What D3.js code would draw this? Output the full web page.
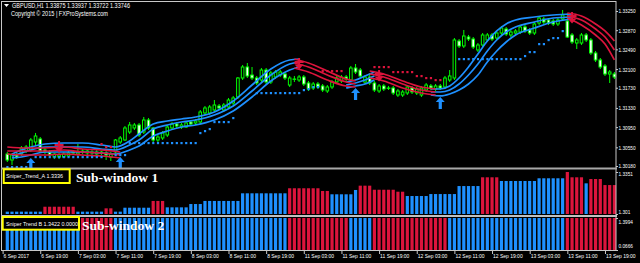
<!DOCTYPE html>
<html>
<head>
<meta charset="utf-8">
<script src="https://cdn.jsdelivr.net/npm/d3@7"></script>
<style>
  body { margin: 0; background: #000; }
  svg { display: block; }
  text { font-family: "Liberation Sans", Arial, sans-serif; fill: #fff; }
</style>
</head>
<body>
<div id="chart"></div>
<script>
// ---- values (GBPUSD H1, 6-13 Sep 2017) ----
const priceTicks = [1.33250, 1.32870, 1.32490, 1.32100, 1.31730, 1.31330, 1.30950, 1.30550, 1.30180];
const timeTickBars = [-1, 7, 15, 23, 31, 39, 47, 55, 63, 71, 79, 87, 95, 103, 111, 119, 127];
const timeLabels = ["6 Sep 2017", "6 Sep 19:00", "7 Sep 03:00", "7 Sep 11:00", "7 Sep 19:00", "8 Sep 03:00",
  "8 Sep 11:00", "8 Sep 19:00", "11 Sep 03:00", "11 Sep 11:00", "11 Sep 19:00", "12 Sep 03:00",
  "12 Sep 11:00", "12 Sep 19:00", "13 Sep 03:00", "13 Sep 11:00", "13 Sep 19:00"];

const opens = [
  1.30418,1.30299,1.30398,1.30418,1.30477,1.30497,1.30655,1.30715,1.30497,1.30457,
  1.30358,1.30358,1.30358,1.30378,1.30457,1.30418,1.30477,1.30438,1.30457,1.30418,
  1.30457,1.30438,1.30358,1.30457,1.30655,1.30695,1.30853,1.30933,1.30992,1.30853,
  1.31091,1.30933,1.30695,1.30735,1.30794,1.30933,1.31012,1.30952,1.30952,1.31052,
  1.31032,1.31052,1.31230,1.31230,1.31289,1.31368,1.31289,1.31349,1.31428,1.31547,
  1.31923,1.32141,1.31982,1.31923,1.31883,1.32081,1.31844,1.31943,1.31982,1.32002,
  1.31784,1.31903,1.31883,1.31943,1.31824,1.31725,1.31804,1.31765,1.31666,1.31745,
  1.31844,1.31864,1.31943,1.31883,1.32121,1.32081,1.31844,1.31943,1.31824,1.31666,
  1.31765,1.31725,1.31725,1.31586,1.31586,1.31626,1.31725,1.31626,1.31586,1.31685,
  1.31765,1.31705,1.31765,1.31745,1.31883,1.31923,1.32656,1.32557,1.32735,1.32695,
  1.32478,1.32577,1.32676,1.32775,1.32715,1.32814,1.32893,1.32775,1.32814,1.32834,
  1.32933,1.32874,1.32814,1.33012,1.33092,1.33072,1.33052,1.32993,1.33092,1.33052,
  1.32775,1.32616,1.32616,1.32775,1.32676,1.32418,1.32280,1.32161,1.32002,1.32002];
const highs = [
  1.30457,1.30438,1.30457,1.30576,1.30596,1.30735,1.30834,1.30754,1.30537,1.30497,
  1.30438,1.30438,1.30457,1.30477,1.30497,1.30616,1.30517,1.30517,1.30497,1.30497,
  1.30477,1.30477,1.30457,1.30715,1.30774,1.30972,1.31052,1.31032,1.31032,1.31151,
  1.31131,1.30952,1.30794,1.30873,1.30992,1.31052,1.31052,1.31032,1.31071,1.31091,
  1.31111,1.31289,1.31368,1.31388,1.31487,1.31408,1.31428,1.31527,1.31567,1.31943,
  1.32181,1.32220,1.32141,1.31963,1.32121,1.32121,1.32062,1.32081,1.32081,1.32042,
  1.31963,1.31963,1.31982,1.31982,1.31864,1.31844,1.31844,1.31804,1.31784,1.31883,
  1.31963,1.31982,1.31982,1.32161,1.32200,1.32121,1.31982,1.32022,1.31864,1.31804,
  1.31804,1.31765,1.31765,1.31705,1.31685,1.31784,1.31765,1.31745,1.31765,1.31824,
  1.31804,1.31804,1.31804,1.31963,1.32081,1.32715,1.32695,1.32874,1.32775,1.32735,
  1.32616,1.32814,1.32814,1.32814,1.32854,1.32953,1.32933,1.32874,1.32893,1.32973,
  1.32973,1.32913,1.33032,1.33151,1.33131,1.33111,1.33092,1.33111,1.33270,1.33210,
  1.32814,1.32715,1.32814,1.32814,1.32715,1.32458,1.32319,1.32200,1.32081,1.32042];
const lows = [
  1.30259,1.30200,1.30319,1.30378,1.30438,1.30457,1.30576,1.30438,1.30418,1.30358,
  1.30319,1.30319,1.30339,1.30339,1.30398,1.30378,1.30418,1.30398,1.30398,1.30378,
  1.30398,1.30299,1.30279,1.30418,1.30616,1.30675,1.30814,1.30893,1.30754,1.30814,
  1.30893,1.30655,1.30655,1.30695,1.30754,1.30893,1.30933,1.30913,1.30933,1.30972,
  1.30992,1.31012,1.31190,1.31190,1.31250,1.31289,1.31250,1.31309,1.31388,1.31507,
  1.31883,1.31923,1.31883,1.31784,1.31844,1.31804,1.31804,1.31903,1.31943,1.31883,
  1.31745,1.31844,1.31844,1.31765,1.31666,1.31685,1.31705,1.31646,1.31626,1.31705,
  1.31804,1.31824,1.31864,1.31844,1.32002,1.31923,1.31804,1.31784,1.31646,1.31626,
  1.31666,1.31685,1.31586,1.31547,1.31547,1.31586,1.31606,1.31586,1.31547,1.31646,
  1.31685,1.31666,1.31685,1.31705,1.31844,1.31883,1.32517,1.32517,1.32656,1.32497,
  1.32438,1.32537,1.32636,1.32656,1.32676,1.32775,1.32755,1.32735,1.32775,1.32794,
  1.32814,1.32775,1.32775,1.32973,1.32993,1.32973,1.32953,1.32953,1.33052,1.32715,
  1.32596,1.32497,1.32577,1.32636,1.32379,1.32240,1.32101,1.31963,1.31824,1.31903];
const closes = [
  1.30299,1.30398,1.30358,1.30537,1.30556,1.30695,1.30774,1.30477,1.30457,1.30398,
  1.30418,1.30398,1.30418,1.30438,1.30438,1.30457,1.30457,1.30477,1.30438,1.30457,
  1.30438,1.30398,1.30418,1.30695,1.30735,1.30933,1.30992,1.30992,1.30794,1.31091,
  1.30933,1.30695,1.30754,1.30834,1.30952,1.31012,1.30972,1.30992,1.31032,1.31012,
  1.31071,1.31250,1.31329,1.31349,1.31388,1.31329,1.31388,1.31487,1.31527,1.31923,
  1.32141,1.31963,1.31923,1.31824,1.32081,1.31844,1.32022,1.32042,1.32042,1.31923,
  1.31923,1.31903,1.31943,1.31804,1.31705,1.31804,1.31745,1.31685,1.31745,1.31844,
  1.31923,1.31943,1.31903,1.32121,1.32042,1.31963,1.31943,1.31824,1.31685,1.31765,
  1.31705,1.31725,1.31626,1.31666,1.31646,1.31745,1.31646,1.31705,1.31725,1.31784,
  1.31725,1.31765,1.31725,1.31923,1.31963,1.32676,1.32557,1.32755,1.32695,1.32537,
  1.32577,1.32775,1.32775,1.32695,1.32814,1.32913,1.32794,1.32834,1.32854,1.32933,
  1.32854,1.32814,1.32993,1.33111,1.33032,1.33012,1.32993,1.33072,1.33171,1.32735,
  1.32636,1.32676,1.32775,1.32676,1.32418,1.32280,1.32141,1.32002,1.32042,1.31943];

// envelope lines: [bar, upper, middle, lower], null breaks the line
const bandUp = [
  [1,1.30418,1.30378,1.30339],[3,1.30497,1.30438,1.30358],[5,1.30556,1.30497,1.30398],
  [8,1.30616,1.30556,1.30457],[12,1.30636,1.30556,1.30457],[16,1.30636,1.30556,1.30457],
  [20,1.30596,1.30517,1.30438],[23,1.30556,1.30497,1.30418],[26,1.30675,1.30596,1.30497],
  [28,1.30814,1.30695,1.30576],[31,1.31012,1.30913,1.30774],[34,1.31071,1.30992,1.30873],
  [37,1.31111,1.31052,1.30952],[40,1.31151,1.31091,1.30992],[44,1.31250,1.31190,1.31091],
  [48,1.31467,1.31368,1.31269],[52,1.31784,1.31666,1.31547],[56,1.32101,1.31982,1.31864],
  [60,1.32280,1.32200,1.32081],[62,1.32299,1.32240,1.32141],
  null,
  [72,1.31844,1.31784,1.31725],[74,1.31883,1.31824,1.31765],[76,1.31963,1.31883,1.31804],
  [78,1.32042,1.31963,1.31883],
  null,
  [90,1.31705,1.31646,1.31586],[92,1.31705,1.31646,1.31567],[94,1.31765,1.31685,1.31606],
  [96,1.31923,1.31804,1.31685],[98,1.32141,1.31982,1.31804],[100,1.32398,1.32200,1.31982],
  [102,1.32656,1.32458,1.32240],[104,1.32854,1.32676,1.32458],[106,1.32993,1.32834,1.32636],
  [108,1.33072,1.32933,1.32775],[112,1.33131,1.33032,1.32913],[116,1.33171,1.33111,1.33032],
  [120,1.33191,1.33131,1.33092]];
const bandDown = [
  [0,1.30556,1.30477,1.30418],[4,1.30537,1.30477,1.30398],[8,1.30537,1.30477,1.30398],
  [12,1.30556,1.30497,1.30418],[16,1.30517,1.30457,1.30398],[20,1.30497,1.30438,1.30378],
  [24,1.30457,1.30398,1.30339],
  null,
  [61,1.32299,1.32220,1.32121],[64,1.32220,1.32141,1.32042],[68,1.32062,1.31982,1.31883],
  [72,1.31903,1.31844,1.31765],[74,1.31864,1.31804,1.31745],
  null,
  [77,1.32062,1.32002,1.31923],[80,1.32002,1.31943,1.31864],[84,1.31864,1.31804,1.31725],
  [88,1.31745,1.31685,1.31626],[91,1.31705,1.31646,1.31586],
  null,
  [119,1.33210,1.33151,1.33111],[122,1.33151,1.33072,1.32973],[125,1.32993,1.32893,1.32775],
  [127,1.32854,1.32735,1.32596],[129,1.32656,1.32478,1.32280]];

// trailing stop dots: [fromBar, toBar, price]
const stopUpRuns = [
  [0,4,1.30161],[6,20,1.30358],[23,25,1.30398],[26,40,1.30636],[41,41,1.30834],[42,42,1.30873],
  [43,43,1.30913],[44,47,1.31052],[48,48,1.31131],[53,62,1.31626],[63,63,1.31685],[64,64,1.31705],
  [65,66,1.31745],[96,109,1.32299],[110,110,1.32359],[111,112,1.32438],[113,114,1.32596],
  [115,115,1.32676],[116,117,1.32715],[118,118,1.32854]];
const stopDownRuns = [
  [20,20,1.30616],[21,22,1.30556],[67,71,1.32062],[78,81,1.32141],[82,86,1.32042],
  [87,88,1.31963],[89,90,1.31923],[91,92,1.31883]];

// signal arrows: [bar, price]
const buyArrows = [[5,1.30339],[24,1.30358],[74,1.31725],[92,1.31547]];
const sellArrows = [[11,1.30675],[62,1.32319],[79,1.32081],[120,1.33230]];

// sub-windows: [fromBar, toBar, value, direction]
const trendARuns = [
  [0,7,1.3029,"up"],[8,14,1.3069,"dn"],[15,20,1.3029,"up"],[21,22,1.3056,"dn"],[23,24,1.3029,"up"],
  [25,30,1.3061,"up"],[31,33,1.3116,"dn"],[34,38,1.3064,"up"],[39,41,1.3091,"up"],[42,49,1.3116,"up"],
  [50,59,1.3178,"up"],[60,66,1.3219,"dn"],[67,68,1.3197,"dn"],[69,73,1.3170,"up"],[74,74,1.3205,"up"],
  [75,77,1.3240,"dn"],[78,82,1.3207,"dn"],[83,84,1.3191,"dn"],[85,89,1.3156,"up"],[90,95,1.3172,"up"],
  [96,100,1.3237,"up"],[101,104,1.3308,"dn"],[105,112,1.3278,"up"],[113,118,1.3300,"up"],
  [119,119,1.3351,"dn"],[120,122,1.3308,"dn"],[123,123,1.3259,"up"],[124,126,1.3294,"dn"],
  [127,129,1.3245,"dn"]];
const trendBRuns = [
  [0,15,1.3994,"up"],[16,22,1.3994,"dn"],[23,59,1.3994,"up"],[60,72,1.3994,"dn"],
  [73,77,1.3994,"up"],[78,93,1.3994,"dn"],[94,118,1.3994,"up"],[119,129,1.3994,"dn"]];
const subATicks = [1.3351, 1.301];
const subBTicks = [1.3994, 0.0666];

// ---- drawing ----
const W = 640, H = 263;
const BLUE = "#1e90ff", RED = "#dc143c", LIME = "#00ff00", FRAME = "#c8c8c8";
const N = opens.length;

const svg = d3.select("#chart").append("svg").attr("width", W).attr("height", H);
svg.append("rect").attr("width", W).attr("height", H).attr("fill", "#000");

const x = d3.scaleLinear().domain([0, N - 1]).range([7.3, 614.4]);
const y = d3.scaleLinear().domain([1.30180, 1.33250]).range([166, 11]);
const yA = d3.scaleLinear().domain([1.301, 1.3351]).range([214, 172]);
const yB = d3.scaleLinear().domain([0.0666, 1.3994]).range([250, 218]);

// squeeze text to the narrow terminal font
function squeeze(sel, f) {
  sel.each(function() {
    const w = this.getComputedTextLength();
    d3.select(this).attr("textLength", w * f).attr("lengthAdjust", "spacingAndGlyphs");
  });
}

const defs = svg.append("defs");
defs.append("clipPath").attr("id", "clipMain").append("rect")
  .attr("x", 2).attr("y", 2).attr("width", 614).attr("height", 166);

const main = svg.append("g").attr("clip-path", "url(#clipMain)");

// candles
const candle = main.append("g").selectAll("g").data(d3.range(N)).join("g");
candle.append("line")
  .attr("x1", i => x(i)).attr("x2", i => x(i))
  .attr("y1", i => y(highs[i])).attr("y2", i => y(lows[i]))
  .attr("stroke", LIME).attr("stroke-width", 1);
candle.append("rect")
  .attr("x", i => x(i) - 1.3).attr("width", 2.6)
  .attr("y", i => Math.min(y(opens[i]), y(closes[i])))
  .attr("height", i => Math.max(0.4, Math.abs(y(opens[i]) - y(closes[i]))))
  .attr("fill", i => closes[i] >= opens[i] ? "#000" : "#fff")
  .attr("stroke", LIME).attr("stroke-width", 1);

// envelope lines
function drawBand(rows, color) {
  [1, 2, 3].forEach(k => {
    const line = d3.line()
      .defined(d => d !== null)
      .x(d => x(d[0])).y(d => y(d[k]))
      .curve(d3.curveMonotoneX);
    main.append("path").datum(rows).attr("d", line)
      .attr("fill", "none").attr("stroke", color).attr("stroke-width", 1.7);
  });
}
drawBand(bandUp, BLUE);
drawBand(bandDown, RED);

// stop dots
function drawDots(runs, color) {
  const pts = runs.flatMap(([a, b, v]) => d3.range(a, b + 1).map(i => [i, v]));
  main.append("g").selectAll("rect").data(pts).join("rect")
    .attr("x", d => x(d[0]) - 1).attr("y", d => y(d[1]) - 1)
    .attr("width", 2.2).attr("height", 2.2).attr("fill", color);
}
drawDots(stopUpRuns, BLUE);
drawDots(stopDownRuns, RED);

// arrows
main.append("g").selectAll("path").data(buyArrows).join("path")
  .attr("transform", d => `translate(${x(d[0])},${y(d[1])})`)
  .attr("d", "M0,0L4.5,5L1.6,5L1.6,12L-1.6,12L-1.6,5L-4.5,5Z")
  .attr("fill", BLUE);
const sell = main.append("g").selectAll("g").data(sellArrows).join("g")
  .attr("transform", d => `translate(${x(d[0])},${y(d[1])})`)
  .attr("fill", RED);
sell.append("rect").attr("x", -1).attr("y", 0).attr("width", 2).attr("height", 9);
sell.append("rect").attr("x", -4.5).attr("y", 3).attr("width", 9).attr("height", 2);
sell.append("path").attr("d", "M-4.5,6.5L4.5,6.5L0,11.5Z");

// sub-window histograms
function drawHist(runs, ys, base) {
  const pts = runs.flatMap(([a, b, v, dir]) => d3.range(a, b + 1).map(i => [i, v, dir]));
  svg.append("g").selectAll("rect").data(pts).join("rect")
    .attr("x", d => x(d[0]) - 1.6).attr("width", 3.2)
    .attr("y", d => ys(d[1])).attr("height", d => ys(base) - ys(d[1]))
    .attr("fill", d => d[2] === "up" ? BLUE : RED);
}
drawHist(trendARuns, yA, 1.301);
drawHist(trendBRuns, yB, 0.0666);

// frames and separators
svg.append("rect").attr("x", 1.5).attr("y", 1.5).attr("width", 614.5).attr("height", 249)
  .attr("fill", "none").attr("stroke", FRAME);
svg.append("line").attr("x1", 1).attr("x2", 617).attr("y1", 168.5).attr("y2", 168.5)
  .attr("stroke", "#a8a8a8").attr("stroke-width", 2);
svg.append("line").attr("x1", 1).attr("x2", 617).attr("y1", 216).attr("y2", 216)
  .attr("stroke", "#c0c0c0").attr("stroke-width", 2);

// right price axis
const axMain = svg.append("g").attr("transform", "translate(616,0)")
  .call(d3.axisRight(y).tickValues(priceTicks).tickFormat(d3.format(".5f")).tickSize(2).tickPadding(0));
const axA = svg.append("g").attr("transform", "translate(616,0)")
  .call(d3.axisRight(yA).tickValues(subATicks).tickFormat(d => d3.format(".4~f")(d)).tickSize(2).tickPadding(0));
axA.selectAll("text").attr("dy", (d, i) => i === 0 ? "0.62em" : "-0.03em");
const axB = svg.append("g").attr("transform", "translate(616,0)")
  .call(d3.axisRight(yB).tickValues(subBTicks).tickFormat(d3.format(".4f")).tickSize(2).tickPadding(0));
axB.selectAll("text").attr("dy", (d, i) => i === 0 ? "0.88em" : "-0.34em");

// time axis
const axT = svg.append("g").attr("transform", "translate(0,251)")
  .call(d3.axisBottom(x).tickValues(timeTickBars).tickFormat((d, i) => timeLabels[i]).tickSize(3).tickPadding(0));
axT.selectAll("text").attr("text-anchor", "start").attr("x", 0.5).attr("dy", "0.78em");

[axMain, axA, axB, axT].forEach((g, k) => {
  g.select(".domain").remove();
  g.selectAll("line").attr("stroke", FRAME);
  g.selectAll("text").attr("fill", "#fff").style("font-size", k < 3 ? "6.2px" : "5.6px")
    .style("font-family", '"Liberation Sans", Arial, sans-serif');
  if (k < 3) g.selectAll("text").attr("x", 2.5);
  squeeze(g.selectAll("text"), k < 3 ? 0.76 : 0.89);
});

// header
svg.append("path").attr("d", "M4,4L9,4L6.5,7Z").attr("fill", "#fff");
svg.append("text").attr("x", 12).attr("y", 8.3).style("font-size", "6.5px")
  .attr("textLength", 118).attr("lengthAdjust", "spacingAndGlyphs")
  .text("GBPUSD,H1  1.33875 1.33937 1.33722 1.33746");
svg.append("text").attr("x", 11).attr("y", 16.3).style("font-size", "6.5px")
  .attr("textLength", 97).attr("lengthAdjust", "spacingAndGlyphs")
  .text("Copyright \u00a9 2015 | FXProSystems.com");

// sub-window names with the yellow call-out boxes
svg.append("rect").attr("x", 3.7).attr("y", 169.3).attr("width", 66).attr("height", 13.7)
  .attr("fill", "#000").attr("stroke", "#ffff00").attr("stroke-width", 2);
svg.append("text").attr("x", 6).attr("y", 178.2).style("font-size", "6px")
  .attr("textLength", 57).attr("lengthAdjust", "spacingAndGlyphs").text("Sniper_Trend_A 1.3336");
svg.append("rect").attr("x", 2.7).attr("y", 217).attr("width", 76.3).attr("height", 12.7)
  .attr("fill", "#000").attr("stroke", "#ffff00").attr("stroke-width", 2);
svg.append("text").attr("x", 6).attr("y", 225.5).style("font-size", "6px")
  .attr("textLength", 72).attr("lengthAdjust", "spacingAndGlyphs").text("Sniper Trend B 1.3422 0.0000");

svg.append("text").attr("x", 76).attr("y", 181.6)
  .style("font-family", '"Liberation Serif", "Times New Roman", serif')
  .style("font-size", "13.5px").style("font-weight", "bold").text("Sub-window 1");
svg.append("text").attr("x", 82).attr("y", 230)
  .style("font-family", '"Liberation Serif", "Times New Roman", serif')
  .style("font-size", "13.5px").style("font-weight", "bold").text("Sub-window 2");
</script>
</body>
</html>
